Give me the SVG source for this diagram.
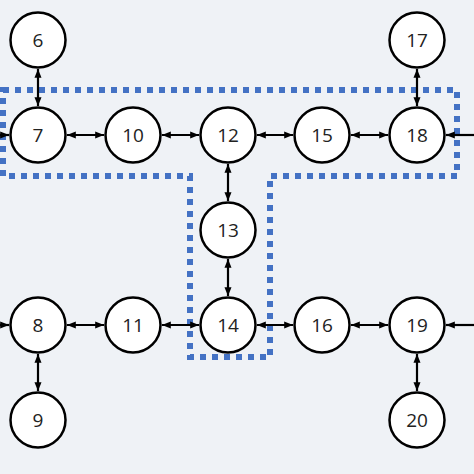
<svg xmlns="http://www.w3.org/2000/svg" width="474" height="474" viewBox="0 0 474 474">
<defs>
<marker id="ah" viewBox="0 0 10 10" refX="10" refY="5" markerWidth="4" markerHeight="4" orient="auto-start-reverse" markerUnits="strokeWidth">
<path d="M0,1 L10,5 L0,9 z" fill="#000"/>
</marker>
<style>
.n circle{fill:#fff;stroke:#000;stroke-width:2.5}
.n text{font-family:"Open Sans","Liberation Sans",sans-serif;font-size:19px;fill:#222;text-anchor:middle;dominant-baseline:central}
.e line{stroke:#000;stroke-width:2.2;marker-end:url(#ah)}
.e .d{marker-start:url(#ah)}
</style>
</defs>
<rect width="474" height="474" fill="#eff2f6"/>
<path id="region" d="M3,90 H457 V176 H270 V357 H190 V176 H3 Z" fill="none" stroke="#4472c4" stroke-width="6" stroke-dasharray="6 6"/>
<g id="connectors" class="e">
<line x1="0" y1="135" x2="9" y2="135"/>
<line x1="474" y1="135" x2="446" y2="135"/>
<line x1="0" y1="325" x2="9" y2="325"/>
<line x1="474" y1="325" x2="446" y2="325"/>
<line class="d" x1="38" y1="69" x2="38" y2="106"/>
<line class="d" x1="417" y1="69" x2="417" y2="106"/>
<line class="d" x1="67" y1="135" x2="104" y2="135"/>
<line class="d" x1="162" y1="135" x2="199" y2="135"/>
<line class="d" x1="257" y1="135" x2="293" y2="135"/>
<line class="d" x1="351" y1="135" x2="388" y2="135"/>
<line class="d" x1="228" y1="164" x2="228" y2="201"/>
<line class="d" x1="228" y1="259" x2="228" y2="296"/>
<line class="d" x1="67" y1="325" x2="104" y2="325"/>
<line class="d" x1="162" y1="325" x2="199" y2="325"/>
<line class="d" x1="257" y1="325" x2="293" y2="325"/>
<line class="d" x1="351" y1="325" x2="388" y2="325"/>
<line class="d" x1="38" y1="354" x2="38" y2="391"/>
<line class="d" x1="417" y1="354" x2="417" y2="391"/>
</g>
<g id="n6" class="n"><circle cx="38" cy="40" r="27.5"/><text x="38" y="40">6</text></g>
<g id="n17" class="n"><circle cx="417" cy="40" r="27.5"/><text x="417" y="40">17</text></g>
<g id="n7" class="n"><circle cx="38" cy="135" r="27.5"/><text x="38" y="135">7</text></g>
<g id="n10" class="n"><circle cx="133" cy="135" r="27.5"/><text x="133" y="135">10</text></g>
<g id="n12" class="n"><circle cx="228" cy="135" r="27.5"/><text x="228" y="135">12</text></g>
<g id="n15" class="n"><circle cx="322" cy="135" r="27.5"/><text x="322" y="135">15</text></g>
<g id="n18" class="n"><circle cx="417" cy="135" r="27.5"/><text x="417" y="135">18</text></g>
<g id="n13" class="n"><circle cx="228" cy="230" r="27.5"/><text x="228" y="230">13</text></g>
<g id="n8" class="n"><circle cx="38" cy="325" r="27.5"/><text x="38" y="325">8</text></g>
<g id="n11" class="n"><circle cx="133" cy="325" r="27.5"/><text x="133" y="325">11</text></g>
<g id="n14" class="n"><circle cx="228" cy="325" r="27.5"/><text x="228" y="325">14</text></g>
<g id="n16" class="n"><circle cx="322" cy="325" r="27.5"/><text x="322" y="325">16</text></g>
<g id="n19" class="n"><circle cx="417" cy="325" r="27.5"/><text x="417" y="325">19</text></g>
<g id="n9" class="n"><circle cx="38" cy="420" r="27.5"/><text x="38" y="420">9</text></g>
<g id="n20" class="n"><circle cx="417" cy="420" r="27.5"/><text x="417" y="420">20</text></g>
</svg>
